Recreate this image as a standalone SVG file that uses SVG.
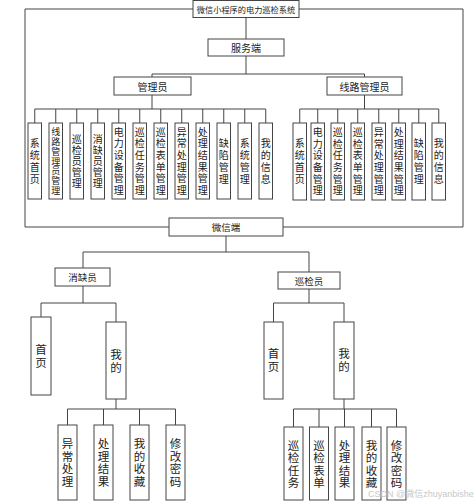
<svg xmlns="http://www.w3.org/2000/svg" width="474" height="504" viewBox="0 0 474 504">
<style>
.b{fill:#fff;stroke:#444;stroke-width:1}
.l{fill:none;stroke:#444;stroke-width:1}
text{font-family:"Noto Sans CJK SC","Noto Sans",sans-serif;fill:#222}
.h{text-anchor:middle;dominant-baseline:central}
.vt{writing-mode:vertical-rl;text-anchor:middle}
.v4{font-size:10px;letter-spacing:2px}
.v5{font-size:10px;letter-spacing:1px}
.v6{font-size:10px;letter-spacing:1.6px}
.v7{font-size:9px;letter-spacing:0.8px}
.vb{font-size:11.5px;letter-spacing:1px}
.vb2{font-size:11.5px;letter-spacing:1.5px}
</style>
<rect width="474" height="504" fill="#fff"/>
<g id="connectors">
<path class="l" d="M193,9H25V227H169M299,9H463V227H283"/>
<path class="l" d="M246,17V39M246,56V74M152,74H364.5M152,74V77M364.5,74V77"/>
<path class="l" d="M152,95V109M34.75,109H265.75M34.75,109V123M55.75,109V123M76.75,109V123M97.75,109V123M118.75,109V123M139.75,109V123M160.75,109V123M181.75,109V123M202.75,109V123M223.75,109V123M244.75,109V123M265.75,109V123"/>
<path class="l" d="M364.5,95V109M299.75,109H438.75M299.75,109V123M317.75,109V123M337.75,109V123M357.75,109V123M378.75,109V123M398.75,109V123M418.75,109V123M438.75,109V123"/>
<path class="l" d="M226,236V252M83,252H309M83,252V268M309,252V272"/>
<path class="l" d="M83,286V303M41,303H116M41,303V317M116,303V322M116,399V409M67.5,409H175.5M67.5,409V425M103.5,409V425M139.5,409V425M175.5,409V425"/>
<path class="l" d="M309,289V303M273.5,303H344M273.5,303V322M344,303V322M344,399V409M293.5,409H396.5M293.5,409V427M319,409V427M344.5,409V427M371.5,409V427M396.5,409V427"/>
</g>
<g id="n-title"><rect class="b" x="193" y="0.5" width="106" height="17"/><text class="h" x="246" y="9" font-size="8.2">微信小程序的电力巡检系统</text></g>
<g id="n-server"><rect class="b" x="208" y="39" width="76" height="17"/><text class="h" x="246" y="47.5" font-size="10">服务端</text></g>
<g id="n-admin"><rect class="b" x="114" y="77" width="77" height="18"/><text class="h" x="152.5" y="86" font-size="10">管理员</text></g>
<g id="n-lineadmin"><rect class="b" x="327" y="77" width="75" height="18"/><text class="h" x="364.5" y="86" font-size="10">线路管理员</text></g>

<g id="a1"><rect class="b" x="28" y="123" width="13.5" height="76"/><text class="vt v4" x="34.75" y="162">系统首页</text></g>
<g id="a2"><rect class="b" x="49" y="123" width="13.5" height="76"/><text class="vt v7" x="55.75" y="161.5">线路管理员管理</text></g>
<g id="a3"><rect class="b" x="70" y="123" width="13.5" height="76"/><text class="vt v5" x="76.75" y="161.5">巡检员管理</text></g>
<g id="a4"><rect class="b" x="91" y="123" width="13.5" height="76"/><text class="vt v5" x="97.75" y="161.5">消缺员管理</text></g>
<g id="a5"><rect class="b" x="112" y="123" width="13.5" height="76"/><text class="vt v6" x="118.75" y="161.8">电力设备管理</text></g>
<g id="a6"><rect class="b" x="133" y="123" width="13.5" height="76"/><text class="vt v6" x="139.75" y="161.8">巡检任务管理</text></g>
<g id="a7"><rect class="b" x="154" y="123" width="13.5" height="76"/><text class="vt v6" x="160.75" y="161.8">巡检表单管理</text></g>
<g id="a8"><rect class="b" x="175" y="123" width="13.5" height="76"/><text class="vt v6" x="181.75" y="161.8">异常处理管理</text></g>
<g id="a9"><rect class="b" x="196" y="123" width="13.5" height="76"/><text class="vt v6" x="202.75" y="161.8">处理结果管理</text></g>
<g id="a10"><rect class="b" x="217" y="123" width="13.5" height="76"/><text class="vt v4" x="223.75" y="162">缺陷管理</text></g>
<g id="a11"><rect class="b" x="238" y="123" width="13.5" height="76"/><text class="vt v4" x="244.75" y="162">系统管理</text></g>
<g id="a12"><rect class="b" x="259" y="123" width="13.5" height="76"/><text class="vt v4" x="265.75" y="162">我的信息</text></g>

<g id="l1"><rect class="b" x="293" y="123" width="13.5" height="77"/><text class="vt v4" x="299.75" y="162.5">系统首页</text></g>
<g id="l2"><rect class="b" x="311" y="123" width="13.5" height="77"/><text class="vt v6" x="317.75" y="162.3">电力设备管理</text></g>
<g id="l3"><rect class="b" x="331" y="123" width="13.5" height="77"/><text class="vt v6" x="337.75" y="162.3">巡检任务管理</text></g>
<g id="l4"><rect class="b" x="351" y="123" width="13.5" height="77"/><text class="vt v6" x="357.75" y="162.3">巡检表单管理</text></g>
<g id="l5"><rect class="b" x="372" y="123" width="13.5" height="77"/><text class="vt v6" x="378.75" y="162.3">异常处理管理</text></g>
<g id="l6"><rect class="b" x="392" y="123" width="13.5" height="77"/><text class="vt v6" x="398.75" y="162.3">处理结果管理</text></g>
<g id="l7"><rect class="b" x="412" y="123" width="13.5" height="77"/><text class="vt v4" x="418.75" y="162.5">缺陷管理</text></g>
<g id="l8"><rect class="b" x="432" y="123" width="13.5" height="77"/><text class="vt v4" x="438.75" y="162.5">我的信息</text></g>

<g id="n-wechat"><rect class="b" x="169" y="218" width="114" height="18"/><text class="h" x="226" y="227" font-size="9.5">微信端</text></g>
<g id="n-fixer"><rect class="b" x="55" y="268" width="55" height="18"/><text class="h" x="82.5" y="277" font-size="9.5">消缺员</text></g>
<g id="n-patrol"><rect class="b" x="278" y="272" width="62" height="17"/><text class="h" x="309" y="280.5" font-size="9.5">巡检员</text></g>

<g id="f-home"><rect class="b" x="31" y="317" width="20" height="78"/><text class="vt vb2" x="41" y="357">首页</text></g>
<g id="f-mine"><rect class="b" x="106" y="322" width="20" height="77"/><text class="vt vb2" x="116" y="361.5">我的</text></g>
<g id="f1"><rect class="b" x="58" y="425" width="19" height="75"/><text class="vt vb" x="67.5" y="463">异常处理</text></g>
<g id="f2"><rect class="b" x="94" y="425" width="19" height="75"/><text class="vt vb" x="103.5" y="463">处理结果</text></g>
<g id="f3"><rect class="b" x="130" y="425" width="19" height="75"/><text class="vt vb" x="139.5" y="463">我的收藏</text></g>
<g id="f4"><rect class="b" x="166" y="425" width="19" height="75"/><text class="vt vb" x="175.5" y="463">修改密码</text></g>

<g id="p-home"><rect class="b" x="264" y="322" width="19" height="77"/><text class="vt vb2" x="273.5" y="361">首页</text></g>
<g id="p-mine"><rect class="b" x="334" y="322" width="20" height="77"/><text class="vt vb2" x="344" y="361">我的</text></g>
<g id="p1"><rect class="b" x="284" y="427" width="19" height="73"/><text class="vt vb" x="293.5" y="464.5">巡检任务</text></g>
<g id="p2"><rect class="b" x="309.5" y="427" width="19" height="73"/><text class="vt vb" x="319" y="464.5">巡检表单</text></g>
<g id="p3"><rect class="b" x="335" y="427" width="19" height="73"/><text class="vt vb" x="344.5" y="464.5">处理结果</text></g>
<g id="p4"><rect class="b" x="362" y="427" width="19" height="73"/><text class="vt vb" x="371.5" y="464.5">我的收藏</text></g>
<g id="p5"><rect class="b" x="387" y="427" width="19" height="73"/><text class="vt vb" x="396.5" y="464.5">修改密码</text></g>

<text x="368" y="497" font-size="9" style="fill:#c8c8c8;font-family:'Liberation Sans','Noto Sans CJK SC',sans-serif">CSDN @微信zhuyanbishe</text>
</svg>
